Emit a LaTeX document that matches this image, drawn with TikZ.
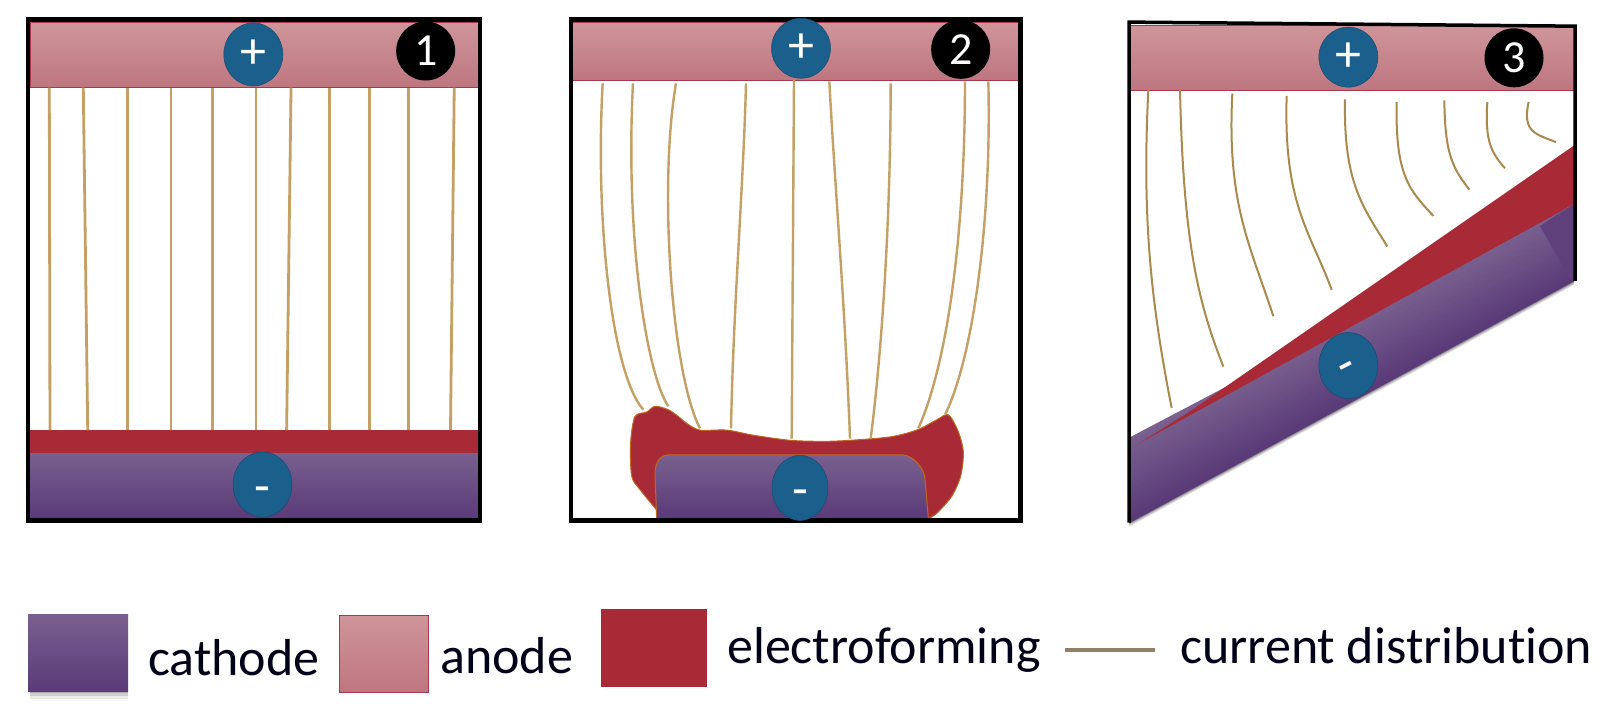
\documentclass[tikz,border=0pt]{standalone}
\usepackage{fontspec}
\setmainfont{Carlito}[Ligatures=NoCommon]
\usetikzlibrary{shapes.geometric,calc}
\definecolor{anodeT}{HTML}{CF959B}
\definecolor{anodeB}{HTML}{BE7680}
\definecolor{anodeE}{HTML}{A8384E}
\definecolor{cathT}{HTML}{79608F}
\definecolor{cathB}{HTML}{5A3A78}
\definecolor{elec}{HTML}{A82A36}
\definecolor{elecE}{HTML}{C2661E}
\definecolor{pole}{HTML}{1B5F8C}
\definecolor{cur}{HTML}{C4A064}
\definecolor{curD}{HTML}{A98A4C}
\newcommand{\lowminus}{\raisebox{-19pt}[0pt][0pt]{-}}
\tikzset{
  zoomedA/.style={x=0.34pt,y=-0.34pt},
  zoomedB/.style={x=0.33333pt,y=-0.34pt},
  frame/.style={draw=black,line width=4.5pt},
  anode/.style={top color=anodeT,bottom color=anodeB,draw=anodeE,line width=0.8pt},
  cathode/.style={top color=cathT,bottom color=cathB},
  electro/.style={fill=elec},
  current/.style={draw=cur,line width=2.8pt},
  currentmid/.style={draw=cur,line width=2.4pt},
  currentthin/.style={draw=curD,line width=2pt},
  polemark/.style={ellipse,fill=pole,draw=pole!80!black,line width=0.5pt,inner sep=0pt,minimum width=59pt,minimum height=63pt,text=white,font=\fontsize{52}{52}\selectfont},
  badge/.style={circle,fill=black,inner sep=0pt,minimum size=59pt,text=white,font=\fontsize{46}{46}\selectfont},
  legendtext/.style={anchor=base west,inner sep=0pt,text=black!90!blue,font=\fontsize{52}{52}\selectfont},
}
\begin{document}
\begin{tikzpicture}[x=1pt,y=-1pt]
\useasboundingbox (0,0) rectangle (1600,710);
\fill[white] (0,0) rectangle (1600,710);

% ---- panel 1
\begin{scope}[zoomedA]
  \shade[cathode] (85,1332) rectangle (1412,1525);
  \fill[electro] (88,1265) rectangle (1408,1332);
  \shade[anode] (88,65) rectangle (1412,258);
  \foreach \a/\b in {145/147,245/258,376/376,503/503,625/625,753/753,856/843,970/970,1087/1087,1201/1201,1336/1325}
    \draw[current] (\a,258) -- (\b,1265);
  \draw[frame] (82,57) rectangle (1412,1531);
  \node[polemark] (p1) at (745,160) {+};
  \node[badge] (b1) at (1252,150) {1};
  \node[polemark,minimum height=65pt] (m1) at (772,1425) {\lowminus};
\end{scope}

% ---- panel 2
\begin{scope}[shift={(540pt,0pt)},zoomedB]
  \shade[anode] (95,65) rectangle (1438,235);
  \fill[electro,draw=elecE,line width=1pt] plot[smooth,tension=0.5] coordinates {(350,1500) (300,1440) (275,1400) (272,1300) (285,1225) (320,1212) (345,1195) (385,1205) (415,1225) (440,1245) (480,1265) (560,1265) (640,1280) (750,1295) (850,1298) (930,1295) (1050,1285) (1130,1265) (1190,1235) (1225,1220) (1255,1270) (1270,1330) (1262,1400) (1235,1460) (1190,1510) (1165,1525)} -- (350,1525) -- cycle;
  \shade[cathode,draw=elecE,line width=1pt] (350,1525) -- (345,1395) .. controls (345,1365) and (355,1340) .. (385,1338) -- (1090,1338) .. controls (1120,1340) and (1155,1380) .. (1155,1410) -- (1165,1525) -- cycle;
  \draw[currentmid] (188,245) .. controls (165,650) and (215,1100) .. (310,1205);
  \draw[currentmid] (279,245) .. controls (255,700) and (320,1100) .. (385,1195);
  \draw[currentmid] (408,245) .. controls (355,550) and (395,1100) .. (480,1260);
  \draw[currentmid] (618,245) .. controls (610,550) and (580,900) .. (573,1260);
  \draw[currentmid] (762,235) -- (755,1290);
  \draw[currentmid] (868,240) .. controls (885,550) and (915,900) .. (930,1290);
  \draw[currentmid] (1052,245) .. controls (1052,600) and (1030,1000) .. (992,1290);
  \draw[currentmid] (1275,240) .. controls (1275,650) and (1230,1050) .. (1135,1260);
  \draw[currentmid] (1345,240) .. controls (1355,650) and (1300,1050) .. (1215,1220);
  \draw[frame] (93,57) rectangle (1441,1531);
  \node[polemark,minimum height=60pt] (p2) at (783,142) {+};
  \node[badge] (b2) at (1262,145) {2};
  \node[polemark,minimum width=56pt,minimum height=65pt] (m2) at (780,1435) {\lowminus};
\end{scope}

% ---- panel 3
\begin{scope}[shift={(1090pt,0pt)},zoomedB]
  \coordinate (ca) at (118,1287);
  \coordinate (cb) at (1452,600);
  \coordinate (cc) at (118,1537);
  \coordinate (cd) at (1452,826);
  \foreach \s/\o in {12/0.12,8/0.18,4/0.25}
    \fill[black,opacity=\o] ($(ca)!0.6!(cc)$) -- ($(cb)!0.6!(cd)$) -- ($(cd)+(0,\s)$) -- ($(cc)+(0,\s)$) -- cycle;
  \foreach \i in {0,...,23}{
    \pgfmathsetmacro{\ta}{\i/24}
    \pgfmathsetmacro{\tb}{(\i+1.15)/24}
    \pgfmathsetmacro{\mixv}{100*(1-\i/23)}
    \fill[cathT!\mixv!cathB] ($(ca)!\ta!(cc)$) -- ($(cb)!\ta!(cd)$) -- ($(cb)!\tb!(cd)$) -- ($(ca)!\tb!(cc)$) -- cycle;
  }
  \fill[cathB!85!cathT] (1350,665) -- (1452,600) -- (1452,826) -- (1440,820) -- cycle;
  \fill[electro] (145,1305) -- (300,1210) -- (1452,428) -- (1452,600) -- cycle;
  \shade[anode] (118,75) rectangle (1452,265);
  \draw[currentthin] (175,265) .. controls (155,650) and (185,900) .. (245,1200);
  \draw[currentthin] (270,265) .. controls (280,700) and (320,880) .. (400,1078);
  \draw[currentthin] (427,275) .. controls (410,600) and (480,720) .. (550,930);
  \draw[currentthin] (590,282) .. controls (580,600) and (660,680) .. (725,852);
  \draw[currentthin] (765,292) .. controls (760,540) and (820,610) .. (892,725);
  \draw[currentthin] (920,300) .. controls (915,520) and (960,560) .. (1030,635);
  \draw[currentthin] (1063,295) .. controls (1065,450) and (1085,490) .. (1138,558);
  \draw[currentthin] (1192,300) .. controls (1185,410) and (1200,445) .. (1245,495);
  \draw[currentthin] (1316,300) .. controls (1295,390) and (1340,395) .. (1398,418);
  \draw[draw=black,line width=3.5pt] (117,1537) -- (117,65) -- (1455,77) -- (1455,826);
  \node[polemark,minimum height=60pt] (p3) at (775,168) {+};
  \node[badge] (b3) at (1272,170) {3};
  \node[polemark,minimum height=66pt] (m3) at (775,1075) {\raisebox{-17pt}[0pt][0pt]{\rotatebox{27}{-}}};
\end{scope}

% ---- legend
\foreach \s/\o in {8/0.08,5/0.12,2/0.18}
  \fill[black,opacity=\o] (30,640) rectangle (128,691+\s);
\shade[cathode] (28,614) rectangle (128,691);
\shade[anode] (339,615) rectangle (428,692);
\fill[electro] (601,609) rectangle (707,687);
\node[legendtext] (lc) at (148,675) {cathode};
\node[legendtext] (la) at (440,673) {anode};
\node[legendtext] (le) at (727,663) {electroforming};
\coordinate (ls) at (1065,650);
\coordinate (lf) at (1155,650);
\draw[draw=black!40!cur!80!white,line width=4pt] (ls) -- (lf);
\node[legendtext] (ld) at (1180,663) {current distribution};
\end{tikzpicture}
\end{document}
